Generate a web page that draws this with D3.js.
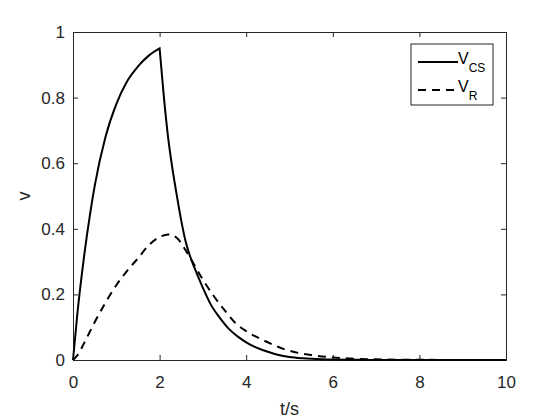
<!DOCTYPE html>
<html>
<head>
<meta charset="utf-8">
<script src="https://cdn.jsdelivr.net/npm/d3@7"></script>
<style>
  body { margin: 0; background: #fff; }
  svg { display: block; }
</style>
</head>
<body>
<script>
  // V_CS while charging (t <= 2) and discharging (t >= 2)
  const tRise = [0, 0.1, 0.25, 0.4, 0.5, 0.75, 1.0, 1.25, 1.5, 1.75, 2.0];
  const vcsRise = [0, 0.14, 0.31, 0.45, 0.53, 0.68, 0.78, 0.85, 0.895, 0.928, 0.95];
  const tFall = [2.0, 2.1, 2.2, 2.3, 2.4, 2.5, 2.6, 2.7, 2.8, 3.0, 3.2, 3.4, 3.6, 3.8, 4.0, 4.2, 4.5, 4.75, 5.0, 5.3, 5.75, 6.5, 7.5, 10];
  const vcsFall = [0.95, 0.80, 0.675, 0.58, 0.50, 0.425, 0.362, 0.318, 0.283, 0.22, 0.165, 0.127, 0.095, 0.072, 0.054, 0.040, 0.025, 0.015, 0.009, 0.005, 0.002, 0.0006, 0.0001, 0];

  // V_R
  const tR = [0, 0.1, 0.25, 0.5, 0.75, 1.0, 1.25, 1.5, 1.75, 2.0, 2.2, 2.4, 2.6, 2.8, 3.0, 3.25, 3.5, 3.75, 4.0, 4.4, 4.9, 5.5, 6.0, 6.5, 7.0, 8.0, 10];
  const vR = [0, 0.014, 0.05, 0.115, 0.175, 0.228, 0.272, 0.31, 0.35, 0.375, 0.383, 0.372, 0.335, 0.29, 0.245, 0.195, 0.152, 0.113, 0.088, 0.06, 0.032, 0.015, 0.008, 0.004, 0.002, 0.0005, 0];

  const xTicks = [0, 2, 4, 6, 8, 10];
  const yTicks = [0, 0.2, 0.4, 0.6, 0.8, 1];

  const w = 560, h = 420;
  const pLeft = 73, pRight = 506, pTop = 32, pBottom = 360;
  const ink = '#262626';
  const font = '"Liberation Sans", Arial, sans-serif';

  const x = d3.scaleLinear().domain([0, 10]).range([pLeft, pRight]);
  const y = d3.scaleLinear().domain([0, 1]).range([pBottom, pTop]);

  const svg = d3.select('body').append('svg')
    .attr('width', w)
    .attr('height', h);

  // axes: ticks point inward, box on all four sides
  const tick = 5;
  svg.append('g')
    .attr('transform', `translate(0,${pBottom})`)
    .call(d3.axisBottom(x).tickValues(xTicks).tickSize(-tick).tickPadding(16).tickFormat(d3.format('d')));
  svg.append('g')
    .attr('transform', `translate(0,${pTop})`)
    .call(d3.axisTop(x).tickValues(xTicks).tickSize(-tick).tickFormat(''));
  svg.append('g')
    .attr('transform', `translate(${pLeft},0)`)
    .call(d3.axisLeft(y).tickValues(yTicks).tickSize(-tick).tickPadding(8).tickFormat(d => d3.format('')(d)));
  svg.append('g')
    .attr('transform', `translate(${pRight},0)`)
    .call(d3.axisRight(y).tickValues(yTicks).tickSize(-tick).tickFormat(''));

  svg.selectAll('.domain').attr('stroke', ink).attr('stroke-width', 1);
  svg.selectAll('.tick line').attr('stroke', ink);
  svg.selectAll('.tick text')
    .attr('fill', ink)
    .attr('font-family', font)
    .attr('font-size', 17);

  // curves
  const line = d3.line()
    .x(d => x(d[0]))
    .y(d => y(d[1]))
    .curve(d3.curveMonotoneX);

  const rise = tRise.map((t, i) => [t, vcsRise[i]]);
  const fall = tFall.map((t, i) => [t, vcsFall[i]]);
  const rr = tR.map((t, i) => [t, vR[i]]);

  svg.append('path')
    .attr('d', line(rr))
    .attr('fill', 'none')
    .attr('stroke', '#000')
    .attr('stroke-width', 2)
    .attr('stroke-dasharray', '8,6');

  svg.append('path')
    .attr('d', line(rise) + line(fall).replace(/^M/, 'L'))
    .attr('fill', 'none')
    .attr('stroke', '#000')
    .attr('stroke-width', 2)
    .attr('stroke-linejoin', 'miter');

  // axis labels
  svg.append('text')
    .attr('text-anchor', 'middle')
    .attr('x', (pLeft + pRight) / 2)
    .attr('y', 415)
    .attr('fill', ink)
    .attr('font-family', font)
    .attr('font-size', 18)
    .text('t/s');

  svg.append('text')
    .attr('text-anchor', 'middle')
    .attr('transform', `translate(30,${(pTop + pBottom) / 2})rotate(-90)`)
    .attr('fill', ink)
    .attr('font-family', font)
    .attr('font-size', 18)
    .text('v');

  // legend
  const lg = svg.append('g');
  lg.append('rect')
    .attr('x', 411).attr('y', 44)
    .attr('width', 82).attr('height', 61)
    .attr('fill', '#fff')
    .attr('stroke', ink)
    .attr('stroke-width', 1);

  const items = [
    { name: 'V', sub: 'CS', dash: null, yy: 62 },
    { name: 'V', sub: 'R', dash: '8,6', yy: 90 }
  ];
  items.forEach(it => {
    lg.append('line')
      .attr('x1', 418).attr('x2', 458)
      .attr('y1', it.yy).attr('y2', it.yy)
      .attr('stroke', '#000')
      .attr('stroke-width', 2)
      .attr('stroke-dasharray', it.dash);
    const t = lg.append('text')
      .attr('x', 458).attr('y', it.yy + 1.5)
      .attr('fill', '#000')
      .attr('font-family', font)
      .attr('font-size', 16);
    t.append('tspan').text(it.name);
    t.append('tspan').attr('dy', 8).attr('font-size', 12).text(it.sub);
  });
</script>
</body>
</html>
